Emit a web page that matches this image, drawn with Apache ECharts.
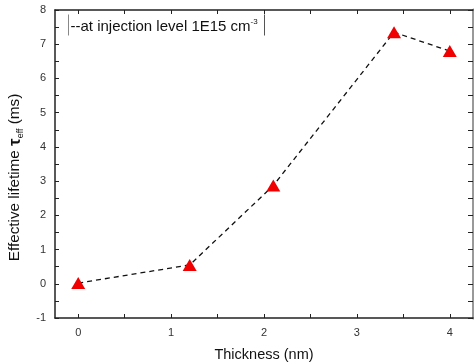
<!DOCTYPE html>
<html><head><meta charset="utf-8">
<script src="https://cdn.jsdelivr.net/npm/echarts@6/dist/echarts.min.js"></script>
<style>html,body{margin:0;padding:0;background:#fff}#c{width:474px;height:362px}</style>
</head><body><div id="c"></div>
<script>
const thickness = [0, 1.2, 2.1, 3.4, 4.0];
const lifetime = [0.02, 0.55, 2.87, 7.35, 6.8];
const xTickLabels = [0, 1, 2, 3, 4];
const xTicks = [0, 0.5, 1, 1.5, 2, 2.5, 3, 3.5, 4];
const legendText = '--at injection level 1E15 cm';

const chart = echarts.init(document.getElementById('c'));
const font = 'Liberation Sans, Arial, sans-serif';
const line = {show: true, onZero: false, lineStyle: {color: '#222', width: 1.5}};
chart.setOption({
  animation: false,
  backgroundColor: '#fff',
  grid: {left: 55, right: 1, top: 10, bottom: 44, outerBoundsMode: 'none', containLabel: false},
  xAxis: [{
    type: 'value', min: -0.25, max: 4.25, position: 'bottom',
    axisLine: line, splitLine: {show: false},
    axisTick: {inside: true, length: 4, customValues: xTicks, lineStyle: {color: '#222'}},
    axisLabel: {customValues: xTickLabels, color: '#333', fontSize: 11, fontFamily: font, margin: 9},
    name: 'Thickness (nm)', nameLocation: 'middle', nameGap: 29,
    nameTextStyle: {fontSize: 14.5, color: '#111', fontFamily: font}
  }, {
    type: 'value', min: -0.25, max: 4.25, position: 'top',
    axisLine: line, splitLine: {show: false},
    axisTick: {inside: true, length: 4, customValues: xTicks, lineStyle: {color: '#222'}},
    axisLabel: {show: false}
  }],
  yAxis: [{
    type: 'value', min: -1, max: 8, interval: 1, position: 'left',
    axisLine: line, splitLine: {show: false},
    axisTick: {inside: true, length: 4, lineStyle: {color: '#222'}},
    minorTick: {show: true, splitNumber: 2, length: 4, lineStyle: {color: '#222'}},
    axisLabel: {color: '#333', fontSize: 11, fontFamily: font, margin: 9},
    name: '{a|Effective lifetime }{t|τ}{s|eff}{a| (ms)}',
    nameLocation: 'middle', nameGap: 30, nameRotate: 90,
    nameTextStyle: {
      fontFamily: font, color: '#111', padding: [0, 27, 0, 0],
      rich: {
        a: {fontSize: 15.3, fontFamily: font, color: '#111'},
        t: {fontSize: 17, fontFamily: font, color: '#111', fontWeight: 'bold'},
        s: {fontSize: 9, fontFamily: font, color: '#111', padding: [11, 0, 0, 0]}
      }
    }
  }, {
    type: 'value', min: -1, max: 8, interval: 1, position: 'right',
    axisLine: {show: true, onZero: false, lineStyle: {color: '#999', width: 3}},
    splitLine: {show: false},
    axisTick: {inside: true, length: 5, lineStyle: {color: '#222'}},
    minorTick: {show: true, splitNumber: 2, length: 5, lineStyle: {color: '#222'}},
    axisLabel: {show: false}
  }],
  graphic: [{
    type: 'group', left: 66, top: 12,
    children: [{
      type: 'line', shape: {x1: 0, y1: 0, x2: 0, y2: 21},
      style: {stroke: '#888', lineWidth: 1}
    }, {
      type: 'line', shape: {x1: 196, y1: 0, x2: 196, y2: 21},
      style: {stroke: '#555', lineWidth: 1}
    }, {
      type: 'text', x: 2, y: 12,
      style: {
        text: '{m|' + legendText + '}{p|-3}',
        verticalAlign: 'middle',
        rich: {
          m: {fontSize: 15, fontFamily: font, fill: '#111'},
          p: {fontSize: 8, fontFamily: font, fill: '#111', padding: [0, 0, 10, 0]}
        }
      }
    }]
  }],
  series: [{
    type: 'line',
    data: thickness.map((x, i) => [x, lifetime[i]]),
    symbol: 'triangle', symbolSize: [14, 12],
    itemStyle: {color: '#f00000'},
    lineStyle: {color: '#111', width: 1.3, type: [5, 4]}
  }]
});
</script></body></html>
